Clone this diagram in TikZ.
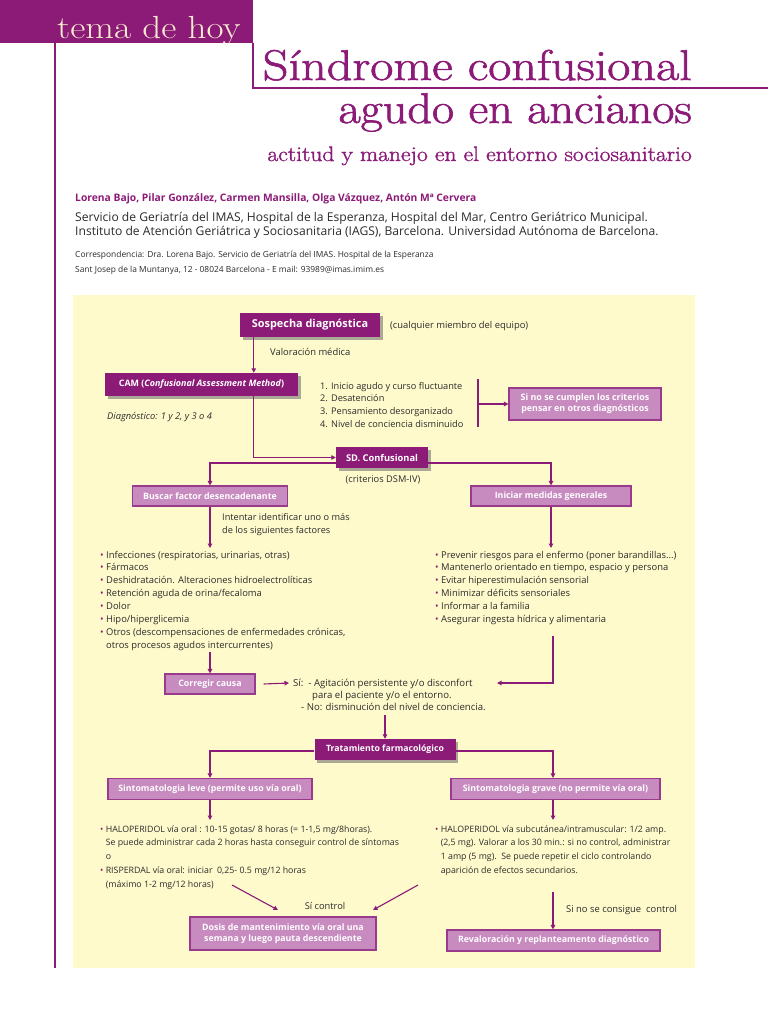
\documentclass[tikz,border=0pt]{standalone}
\usepackage{fontspec}
\setsansfont{Open Sans}
\newfontfamily\titlef[FakeBold=1.4]{Latin Modern Roman}
\newfontfamily\temaf{Latin Modern Roman}
\usetikzlibrary{arrows.meta,shadows}
\definecolor{pur}{HTML}{8C1B78}
\definecolor{lpur}{HTML}{C88BC0}
\definecolor{lbord}{HTML}{9A3A8D}
\definecolor{ylw}{HTML}{FFFACB}
\definecolor{cream}{HTML}{F7EBCF}
\definecolor{txt}{HTML}{2B2B2B}
\begin{document}
\begin{tikzpicture}[x=1pt,y=-1pt,
  every node/.style={inner sep=0pt},
  conn/.style={draw=pur, line width=1.1pt},
  arr/.style={conn, -{Triangle[length=4.5pt,width=4.5pt]}},
  darkbox/.style={fill=pur, text=white, font=\sffamily\bfseries\fontsize{8.7}{11}\selectfont, align=center,
     drop shadow={shadow xshift=2.5pt, shadow yshift=-2.5pt, fill=black!55, opacity=0.6}},
  lightbox/.style={fill=lpur, draw=lbord, line width=1.1pt, text=white, font=\sffamily\bfseries\fontsize{8.8}{11}\selectfont, align=center},
  ftext/.style={text=txt, font=\sffamily\fontsize{9.3}{13}\selectfont, align=left},
]
\useasboundingbox (0,0) rectangle (768,1024);
\fill[white] (0,0) rectangle (768,1024);
% ---------- header ----------
\fill[pur] (0,0) rectangle (253,43);
\draw[pur, line width=1.3pt] (55,43) -- (55,968);
\draw[pur, line width=1.3pt] (253,43) -- (253,88) -- (768,88);
\node[anchor=base west, text=cream, font=\temaf\fontsize{32}{32}\selectfont, xscale=1.16] (tema) at (57,39) {tema de hoy};
\node[anchor=base east, text=pur, font=\titlef\fontsize{43}{43}\selectfont, xscale=1.17] (t1) at (692,80) {Síndrome confusional};
\node[anchor=base east, text=pur, font=\titlef\fontsize{43}{43}\selectfont, xscale=1.12] (t2) at (692,123) {agudo en ancianos};
\node[anchor=base east, text=pur, font=\titlef\fontsize{21}{21}\selectfont, xscale=1.12] (t3) at (692,161) {actitud y manejo en el entorno sociosanitario};
\node[anchor=base west, text=pur, font=\sffamily\bfseries\fontsize{10.3}{12}\selectfont] (auth) at (75,202) {Lorena Bajo, Pilar González, Carmen Mansilla, Olga Vázquez, Antón Mª Cervera};
\node[anchor=base west, text=txt, font=\sffamily\fontsize{12.1}{14}\selectfont, align=left] (serv) at (75,236)
  {Servicio de Geriatría del IMAS, Hospital de la Esperanza, Hospital del Mar, Centro Geriátrico Municipal.\\
   Instituto de Atención Geriátrica y Sociosanitaria (IAGS), Barcelona. Universidad Autónoma de Barcelona.};
\node[anchor=base west, text=txt, font=\sffamily\fontsize{8.4}{14}\selectfont, align=left] (corr0) at (75,272)
  {Correspondencia: Dra. Lorena Bajo. Servicio de Geriatría del IMAS. Hospital de la Esperanza\\
   Sant Josep de la Muntanya, 12 - 08024 Barcelona - E mail: 93989@imas.imim.es};
% ---------- panel ----------
\fill[ylw] (73,295) rectangle (695,968);

% boxes
\node[darkbox, minimum width=140pt, minimum height=24pt, font=\sffamily\bfseries\fontsize{10.9}{12}\selectfont] (sosp) at (310,325) {Sospecha diagnóstica};
\node[anchor=west, ftext, font=\sffamily\fontsize{9.4}{13}\selectfont] (cualq) at (390,326) {(cualquier miembro del equipo)};
\node[darkbox, minimum width=193pt, minimum height=23pt, font=\sffamily\bfseries\fontsize{8.9}{11}\selectfont] (cam) at (201.5,384.5) {CAM (\textit{Confusional Assessment Method})};
\node[anchor=base west, ftext] (diag) at (107,419) {\textit{Diagnóstico: 1 y 2, y 3 o 4}};
\node[anchor=base west, ftext, font=\sffamily\fontsize{9.2}{12.7}\selectfont] (crit) at (320,427.1)
  {1. Inicio agudo y curso fluctuante\\2. Desatención\\3. Pensamiento desorganizado\\4. Nivel de conciencia disminuido};
\node[lightbox, minimum width=152pt, minimum height=32pt, font=\sffamily\bfseries\fontsize{8.9}{11}\selectfont] (otros) at (585,404) {Si no se cumplen los criterios\\pensar en otros diagnósticos};
\node[darkbox, minimum width=92pt, minimum height=21pt, font=\sffamily\bfseries\fontsize{9.3}{11}\selectfont] (sd) at (382,457.5) {SD. Confusional};
\node[ftext] (dsm) at (383,480) {(criterios DSM-IV)};
\node[lightbox, minimum width=155pt, minimum height=20pt] (busc) at (210,496) {Buscar factor desencadenante};
\node[lightbox, minimum width=160pt, minimum height=20pt] (inic) at (551,496) {Iniciar medidas generales};
\node[anchor=base west, ftext, font=\sffamily\fontsize{9.2}{13}\selectfont] (intent) at (222,533) {Intentar identificar uno o más\\de los siguientes factores};

\newcommand{\bu}{{\color{pur}\textbullet}\ }
\newcommand{\hb}{\phantom{\textbullet}\ }
\node[anchor=base west, ftext, font=\sffamily\fontsize{9.4}{12.9}\selectfont] (llist) at (100,648.3)
  {\bu Infecciones (respiratorias, urinarias, otras)\\
   \bu Fármacos\\
   \bu Deshidratación. Alteraciones hidroelectrolíticas\\
   \bu Retención aguda de orina/fecaloma\\
   \bu Dolor\\
   \bu Hipo/hiperglicemia\\
   \bu Otros (descompensaciones de enfermedades crónicas,\\
   \hb otros procesos agudos intercurrentes)};
\node[anchor=base west, ftext, font=\sffamily\fontsize{9.4}{12.9}\selectfont] (rlist) at (435,622.5)
  {\bu Prevenir riesgos para el enfermo (poner barandillas...)\\
   \bu Mantenerlo orientado en tiempo, espacio y persona\\
   \bu Evitar hiperestimulación sensorial\\
   \bu Minimizar déficits sensoriales\\
   \bu Informar a la familia\\
   \bu Asegurar ingesta hídrica y alimentaria};
\node[lightbox, minimum width=90pt, minimum height=20pt] (corr) at (210,684) {Corregir causa};
\node[anchor=base west, ftext, font=\sffamily\fontsize{9.6}{12}\selectfont] (sitext) at (293,710)
  {Sí:\ \ - Agitación persistente y/o disconfort\\
   \hspace{19pt}para el paciente y/o el entorno.\\
   \hspace{8pt}- No: disminución del nivel de conciencia.};
\node[darkbox, minimum width=141pt, minimum height=21pt] (trat) at (385,749.5) {Tratamiento farmacológico};
\node[lightbox, minimum width=204pt, minimum height=21pt] (leve) at (210,789) {Sintomatologia leve (permite uso vía oral)};
\node[lightbox, minimum width=209pt, minimum height=21pt] (grave) at (555.5,789) {Sintomatologia grave (no permite vía oral)};
\node[anchor=base west, ftext, font=\sffamily\fontsize{8.8}{13.8}\selectfont] (hal) at (100,887.2)
  {\bu HALOPERIDOL vía oral : 10-15 gotas/ 8 horas (= 1-1,5 mg/8horas).\\
   \hb Se puede administrar cada 2 horas hasta conseguir control de síntomas\\
   \hb o\\
   \bu RISPERDAL vía oral: iniciar\ \ 0,25- 0.5 mg/12 horas\\
   \hb (máximo 1-2 mg/12 horas)};
\node[anchor=base west, ftext, font=\sffamily\fontsize{8.8}{13.8}\selectfont] (hal2) at (435,873.4)
  {\bu HALOPERIDOL vía subcutánea/intramuscular: 1/2 amp.\\
   \hb (2,5 mg). Valorar a los 30 min.: si no control, administrar\\
   \hb 1 amp (5 mg).\ \ Se puede repetir el ciclo controlando\\
   \hb aparición de efectos secundarios.};
\node[ftext] (sictl) at (325,906) {Sí control};
\node[anchor=west, ftext, font=\sffamily\fontsize{9.4}{13}\selectfont] (sinoc) at (566,910) {Si no se consigue\ \ control};
\node[lightbox, minimum width=186pt, minimum height=33pt] (dosis) at (283,933.5) {Dosis de mantenimiento vía oral una\\semana y luego pauta descendiente};
\node[lightbox, minimum width=213pt, minimum height=21pt] (reval) at (553.5,940.5) {Revaloración y replanteamento diagnóstico};

% ---------- connectors ----------
\coordinate (c1) at ([xshift=14pt]sosp.south west);
\node[anchor=west, ftext, font=\sffamily\fontsize{9.4}{13}\selectfont] (valor) at (270,352) {Valoración médica};
\draw[arr] (c1) -- (c1 |- cam.north);
\coordinate (c2) at (c1 |- cam.south);
\draw[arr] (c2) |- (sd.west);
\coordinate (b1) at (478,379);
\coordinate (b2) at (478,427);
\draw[conn] (b1) -- (b2);
\draw[arr] (b1 |- otros.west) -- (otros.west);
\coordinate (j1) at (0,463);
\draw[arr] (sd.west |- j1) -| (busc.north);
\draw[arr] (sd.east |- j1) -| (inic.north);
\coordinate (l1) at (0,548);
\draw[arr] (busc.south) -- (busc.south |- l1);
\draw[arr] (inic.south) -- (inic.south |- l1);
\coordinate (l2) at (0,652);
\draw[arr] (corr.north |- l2) -- (corr.north);
\coordinate (r1) at (553,636);
\coordinate (r2) at (497,683);
\draw[arr] (r1) |- (r2);
\coordinate (s0) at (289,683);
\draw[arr] ([xshift=8pt]corr.east) -- (s0);
\coordinate (s1) at (0,715);
\draw[arr] (s1 -| trat.north) -- (trat.north);
\coordinate (j2) at (0,751);
\coordinate (gx) at (553,0);
\draw[arr] (trat.west |- j2) -| (leve.north);
\draw[arr] (trat.east |- j2) -| (gx |- grave.north);
\coordinate (l3) at (0,820);
\draw[arr] (leve.south) -- (leve.south |- l3);
\draw[arr] (gx |- grave.south) -- (gx |- l3);
\coordinate (d1) at (232,885);
\coordinate (d2) at (278,910);
\coordinate (d3) at (418,885);
\coordinate (d4) at (373,910);
\draw[arr] (d1) -- (d2);
\draw[arr] (d3) -- (d4);
\coordinate (g1) at (553,892);
\draw[arr] (g1) -- (g1 |- reval.north);
\end{tikzpicture}
\end{document}
